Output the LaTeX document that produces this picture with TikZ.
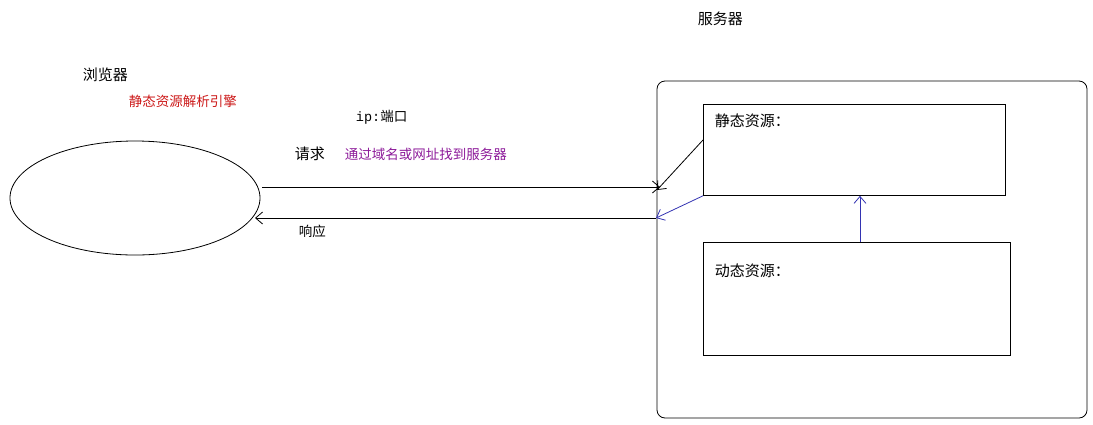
\documentclass[tikz,border=0pt]{standalone}
\usepackage{fontspec}
\setmainfont{Noto Sans CJK SC}
\newfontfamily\monofont{Liberation Mono}
\usepackage{xcolor}
\usetikzlibrary{arrows.meta}
\definecolor{linkblue}{rgb}{0.2,0.2,0.7}
\definecolor{labelred}{rgb}{0.8,0.1,0.1}
\definecolor{labelpurple}{rgb}{0.55,0.1,0.6}
\begin{document}
\begin{tikzpicture}[x=1pt,y=-1pt, >={Straight Barb[length=7pt,width=12pt]},
    box/.style={draw, line width=0.8pt},
    txt/.style={anchor=north west, inner sep=0.75pt, font=\fontsize{15}{17}\selectfont},
    stxt/.style={txt, font=\fontsize{13.5}{16}\selectfont}]
    \useasboundingbox (0,0) rectangle (1093,424);
    % Browser
    \draw[line width=0.8pt] (135,198) ellipse (125 and 57);
    \coordinate (brR) at (262,187);
    \coordinate (brL) at (255,218);
    % Server
    \draw[box, rounded corners=8] (657,81) rectangle (1087,418);
    \node[box, minimum width=302, minimum height=91, anchor=north west, inner sep=0] (static) at (703,104) {};
    \node[box, minimum width=307, minimum height=113, anchor=north west, inner sep=0] (dynamic) at (703,242) {};
    \coordinate (reqEnd) at (660,187);
    \coordinate (resStart) at (656,218);
    % Connectors
    \draw[->, line width=0.8pt] (brR) -- (reqEnd);
    \draw[->, line width=0.8pt] (static.north west |- 0,140) -- (657,190);
    \draw[->, line width=0.8pt, linkblue] (static.south west) -- (resStart);
    \draw[->, line width=0.8pt] (resStart) -- (brL);
    \draw[->, line width=0.8pt, linkblue] (dynamic.north -| 860,0) -- (static.south -| 860,0);
    % Text Node
    \node[txt] (tserver) at (697,11) {服务器};
    \node[txt] (tbrowser) at (82,67) {浏览器};
    \node[stxt, text=labelred] (tengine) at (128,94) {静态资源解析引擎};
    \node[stxt] (tport) at (355,109) {{\monofont ip:}端口};
    \node[txt] (treq) at (294,146) {请求};
    \node[stxt, text=labelpurple] (tfind) at (344,147) {通过域名或网址找到服务器};
    \node[stxt] (tres) at (298,224) {响应};
    \node[txt] (tstatic) at (714,113) {静态资源：};
    \node[txt] (tdynamic) at (714,263) {动态资源：};
\end{tikzpicture}
\end{document}
